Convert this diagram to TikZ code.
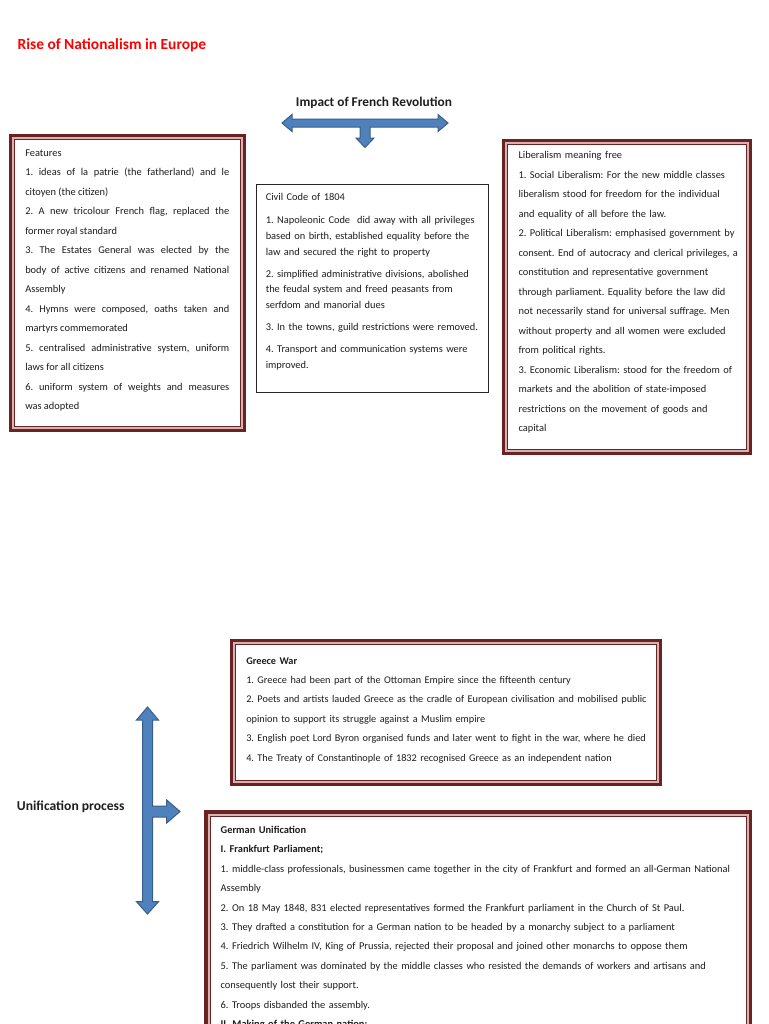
\documentclass[tikz,border=0pt]{standalone}
\usepackage{fontspec}
\setmainfont{Carlito}
\usetikzlibrary{fit}
\definecolor{framedark}{HTML}{6B2222}
\definecolor{framelight}{HTML}{D6B3B3}
\definecolor{arrowfill}{HTML}{4F81BD}
\definecolor{arrowline}{HTML}{385D8A}
\definecolor{txt}{HTML}{1E1E1E}
\tikzset{
  outerframe/.style={draw=framedark, line width=2.5pt, fill=framelight, inner sep=0pt, outer sep=0pt},
  innerframe/.style={draw=framedark, line width=0.8pt, fill=white},
  plainframe/.style={draw=black!85, line width=0.75pt, fill=white, inner sep=0pt, outer sep=0pt},
  body/.style={font=\fontsize{7.8}{14.6}\selectfont, text=txt, inner sep=0pt, anchor=base west},
  heading/.style={font=\bfseries\fontsize{10}{12}\selectfont, text=txt, inner sep=0pt, anchor=base west},
  blockarrow/.style={fill=arrowfill, draw=arrowline, line width=0.75pt, line join=miter},
}
\newcommand{\thickthinframe}[5]{%
  \node[outerframe, fit={(#2,#3)(#4,#5)}] (#1) {};
  \draw[innerframe] ([shift={(4,4)}]#1.north west) rectangle ([shift={(-4,-4)}]#1.south east);}
\begin{document}
\frenchspacing
\begin{tikzpicture}[x=0.75pt,y=-0.75pt]
\useasboundingbox (0,0) rectangle (768,1024);
\clip (0,0) rectangle (768,1024);

% title
\node[anchor=base west, inner sep=0pt, font=\bfseries\fontsize{11.6}{13}\selectfont, text=red] (title) at (17.3,49.3) {Rise of Nationalism in Europe};

% impact heading and arrow
\node[heading] (impact) at (295.7,106.7) {Impact of French Revolution};
\draw[blockarrow] (282,123) -- (292,114.5) -- (292,119) -- (438,119) -- (438,114.5) -- (448,123) -- (438,131.5) -- (438,127) -- (370,127) -- (370,138) -- (374,138) -- (365,147.5) -- (356,138) -- (360,138) -- (360,127) -- (292,127) -- (292,131.5) -- cycle;

% features box
\thickthinframe{featframe}{10.65}{135.65}{244.35}{430.35}
\node[body, text width=153pt, align=justify] (feattext) at (25,156.5) {Features\par
1. ideas of la patrie (the fatherland) and le\linebreak citoyen (the citizen)\par
2. A new tricolour French flag, replaced the\linebreak former royal standard\par
3. The Estates General was elected by the\linebreak body of active citizens and renamed National\linebreak Assembly\par
4. Hymns were composed, oaths taken and\linebreak martyrs commemorated\par
5. centralised administrative system, uniform\linebreak laws for all citizens\par
6. uniform system of weights and measures\linebreak was adopted};

% civil code box
\node[plainframe, fit={(256.5,184)(488.5,392)}] (civilframe) {};
\node[body, font=\fontsize{7.8}{11.8}\selectfont, text width=170pt, align=left] (civiltext) at (265.5,200) {Civil Code of 1804\\[6pt]
1. Napoleonic Code~ did away with all privileges\\ based on birth, established equality before the\\ law and secured the right to property\\[4.6pt]
2. simplified administrative divisions, abolished\\ the feudal system and freed peasants from\\ serfdom and manorial dues\\[4.6pt]
3. In the towns, guild restrictions were removed.\\[4.6pt]
4. Transport and communication systems were\\ improved.};

% liberalism box
\thickthinframe{libframe}{503.65}{140.65}{750.35}{453.35}
\node[body, font=\fontsize{7.8}{14.65}\selectfont, text width=180pt, align=left] (libtext) at (518.3,158.5) {Liberalism meaning free\\
1. Social Liberalism: For the new middle classes\\ liberalism stood for freedom for the individual\\ and equality of all before the law.\\
2. Political Liberalism: emphasised government by\\ consent. End of autocracy and clerical privileges, a\\ constitution and representative government\\ through parliament. Equality before the law did\\ not necessarily stand for universal suffrage. Men\\ without property and all women were excluded\\ from political rights.\\
3. Economic Liberalism: stood for the freedom of\\ markets and the abolition of state-imposed\\ restrictions on the movement of goods and\\ capital};

% greece box
\thickthinframe{greeceframe}{231.65}{640.65}{660.35}{784.35}
\node[body, font=\fontsize{7.7}{14.6}\selectfont, text width=320pt, align=left] (greecetext) at (246,664) {\textbf{Greece War}\\
1. Greece had been part of the Ottoman Empire since the fifteenth century\\
2. Poets and artists lauded Greece as the cradle of European civilisation and mobilised public\\ opinion to support its struggle against a Muslim empire\\
3. English poet Lord Byron organised funds and later went to fight in the war, where he died\\
4. The Treaty of Constantinople of 1832 recognised Greece as an independent nation};

% unification heading and arrow
\node[heading, font=\bfseries\fontsize{10.2}{12}\selectfont] (unif) at (16.7,810) {Unification process};
\draw[blockarrow] (147.5,707) -- (158.5,720) -- (152.7,720) -- (152.7,806) -- (166.7,806) -- (166.7,800) -- (180,811.5) -- (166.7,823) -- (166.7,817) -- (152.7,817) -- (152.7,901.7) -- (158.5,901.7) -- (147.5,914) -- (136.5,901.7) -- (142.7,901.7) -- (142.7,817) -- (142.7,720) -- (136.5,720) -- cycle;

% german box
\thickthinframe{germanframe}{206.15}{812.15}{750.35}{1060}
\node[body, font=\fontsize{7.8}{14.55}\selectfont, text width=400pt, align=left] (germantext) at (220.4,833.4) {\textbf{German Unification}\\
\textbf{I. Frankfurt Parliament;}\\
1. middle-class professionals, businessmen came together in the city of Frankfurt and formed an all-German National\\ Assembly\\
2. On 18 May 1848, 831 elected representatives formed the Frankfurt parliament in the Church of St Paul.\\
3. They drafted a constitution for a German nation to be headed by a monarchy subject to a parliament\\
4. Friedrich Wilhelm IV, King of Prussia, rejected their proposal and joined other monarchs to oppose them\\
5. The parliament was dominated by the middle classes who resisted the demands of workers and artisans and\\ consequently lost their support.\\
6. Troops disbanded the assembly.\\
\textbf{II. Making of the German nation;}};
\end{tikzpicture}
\end{document}
